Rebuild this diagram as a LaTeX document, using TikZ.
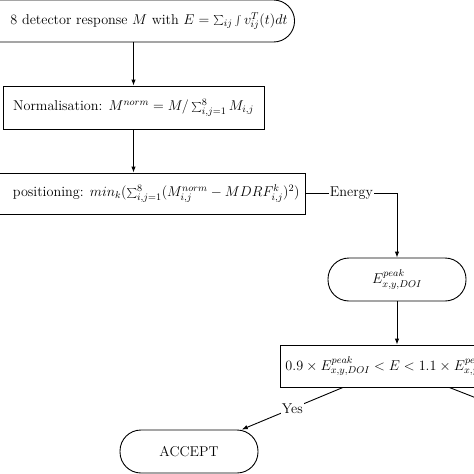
\RequirePackage{fix-cm}
\documentclass[tikz,border=0pt]{standalone}
\usetikzlibrary{arrows.meta}
\begin{document}
\begin{tikzpicture}[x=1pt,y=-1pt,
  every node/.style={font=\fontsize{14.2}{17}\selectfont},
  stadium/.style={draw, rectangle, rounded corners=21pt, minimum height=43pt, line width=0.9pt},
  stepbox/.style={draw, rectangle, minimum height=42pt, line width=0.9pt},
  conn/.style={line width=0.9pt},
  arr/.style={conn, -{Latex[length=6pt,width=4.5pt]}},
  lbl/.style={fill=white, inner sep=1pt}]
\useasboundingbox (0,0) rectangle (474,474);
\clip (0,0) rectangle (474,474);
\node[stadium, anchor=east, text width=400pt, align=flush right, inner xsep=7pt, minimum height=42pt] (n1) at (295,21)
  {8 detector response $M$ with $E=\sum_{ij}\int v_{ij}^T(t)dt$};
\node[stepbox, minimum width=261pt, minimum height=43pt] (n2) at (133.5,107.5)
  {Normalisation: $M^{norm}=M/\sum_{i,j=1}^{8}M_{i,j}$};
\node[stepbox, anchor=east, text width=400pt, align=flush right, inner xsep=6pt, minimum height=41pt] (n3) at (306,193.5)
  {positioning: $min_k(\sum_{i,j=1}^{8}(M^{norm}_{i,j}-MDRF^k_{i,j})^2)$};
\node[stadium, minimum width=138pt] (n4) at (397,279.5) {$E^{peak}_{x,y,DOI}$};
\node[stepbox, anchor=west, inner xsep=5pt] (n5) at (280,366)
  {$0.9\times E^{peak}_{x,y,DOI}<E<1.1\times E^{peak}_{x,y,DOI}$};
\node[stadium, minimum width=138pt] (accept) at (189,451.5) {ACCEPT};
\coordinate (rej) at (613,451.5);
\draw[arr] (n1.south -| n2.north) -- (n2.north);
\draw[arr] (n2.south) -- (n2.south |- n3.north);
\draw[arr] (n3.east) -| node[pos=0.25, lbl] {Energy} (n4.north);
\draw[arr] (n4.south) -- (n4.south |- n5.north);
\draw[arr] (n5) -- node[lbl] {Yes} (accept);
\draw[conn] (n5) -- (rej);
\end{tikzpicture}
\end{document}
